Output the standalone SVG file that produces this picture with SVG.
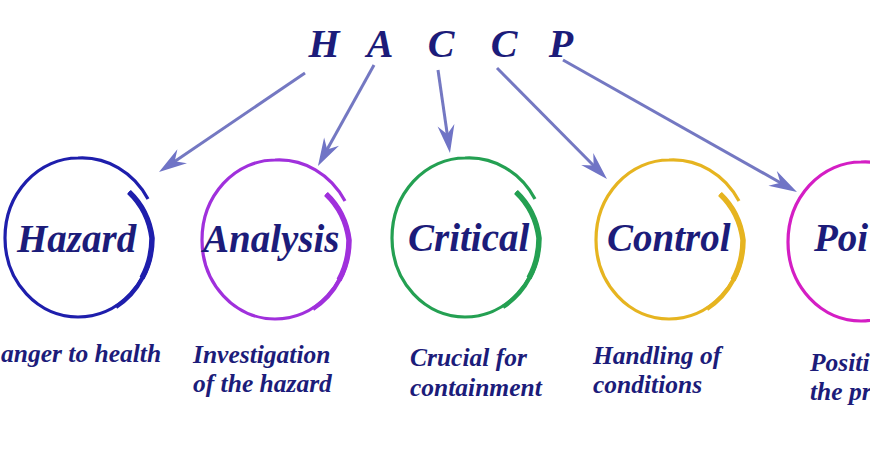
<svg xmlns="http://www.w3.org/2000/svg" width="870" height="457" viewBox="0 0 870 457">
<defs>
<style>
.t{font-family:"Liberation Serif","Times New Roman",serif;font-style:italic;font-weight:bold;fill:#1c1c7a}
.big{font-size:40px}
.lab{font-size:39px}
.sub{font-size:25.5px}
.ring{fill:none;stroke-linecap:butt;stroke-linejoin:round}
.conn{fill:none;stroke:#7478c2;stroke-width:3}
</style>
<marker id="ah" viewBox="-12 -10 32 20" refX="0" refY="0" markerWidth="32" markerHeight="20" markerUnits="userSpaceOnUse" orient="auto">
<path d="M18,0 L-10,-8.5 L-1,0 L-10,8.5 Z" fill="#7074c6"/>
</marker>
<g id="ringshape">
<path d="M51,-46 A70,75 0 0 1 74,0 A74,79 0 0 1 0,79 A73,79 0 0 1 -73,0 A73,80 0 0 1 0,-80 A76,82 0 0 1 70,-39" stroke-width="3.2"/>
<path d="M51,-46 A70,75 0 0 1 74,0 A74,79 0 0 1 38,69" stroke-width="4.2"/>
<path d="M51,-46 A70,75 0 0 1 74,0 A74,79 0 0 1 64,40" stroke-width="5.5"/>
</g>
</defs>
<rect width="870" height="457" fill="#ffffff"/>

<g id="title">
<text class="t big" x="324" y="57" text-anchor="middle">H</text>
<text class="t big" x="380" y="57" text-anchor="middle">A</text>
<text class="t big" x="441" y="57" text-anchor="middle">C</text>
<text class="t big" x="504" y="57" text-anchor="middle">C</text>
<text class="t big" x="561" y="57" text-anchor="middle">P</text>
</g>

<g id="connectors">
<line class="conn" x1="305" y1="73" x2="173.9" y2="161.9" marker-end="url(#ah)"/>
<line class="conn" x1="374" y1="65" x2="326.7" y2="150.3" marker-end="url(#ah)"/>
<line class="conn" x1="438" y1="70" x2="447.4" y2="135.2" marker-end="url(#ah)"/>
<line class="conn" x1="497" y1="68" x2="594.3" y2="166.2" marker-end="url(#ah)"/>
<line class="conn" x1="563" y1="60" x2="781.3" y2="183.2" marker-end="url(#ah)"/>
</g>

<g id="node-hazard">
<use href="#ringshape" class="ring" stroke="#1e1eac" transform="translate(78,238)"/>
<text class="t lab" x="17" y="252">Hazard</text>
<text class="t sub" x="1" y="362">anger to health</text>
</g>

<g id="node-analysis">
<use href="#ringshape" class="ring" stroke="#a030dc" transform="translate(275,240)"/>
<text class="t lab" x="203" y="252">Analysis</text>
<text class="t sub" x="193" y="363">Investigation</text>
<text class="t sub" x="193" y="392">of the hazard</text>
</g>

<g id="node-critical">
<use href="#ringshape" class="ring" stroke="#24a052" transform="translate(465,238)"/>
<text class="t lab" x="408" y="251">Critical</text>
<text class="t sub" x="410" y="366">Crucial for</text>
<text class="t sub" x="410" y="396">containment</text>
</g>

<g id="node-control">
<use href="#ringshape" class="ring" stroke="#e6b420" transform="translate(669,240)"/>
<text class="t lab" x="607" y="251">Control</text>
<text class="t sub" x="593" y="364">Handling of</text>
<text class="t sub" x="593" y="393">conditions</text>
</g>

<g id="node-point">
<use href="#ringshape" class="ring" stroke="#d41ec4" transform="translate(861,242)"/>
<text class="t lab" x="814" y="251">Poi</text>
<text class="t sub" x="810" y="371">Positi</text>
<text class="t sub" x="810" y="400">the pr</text>
</g>
</svg>
